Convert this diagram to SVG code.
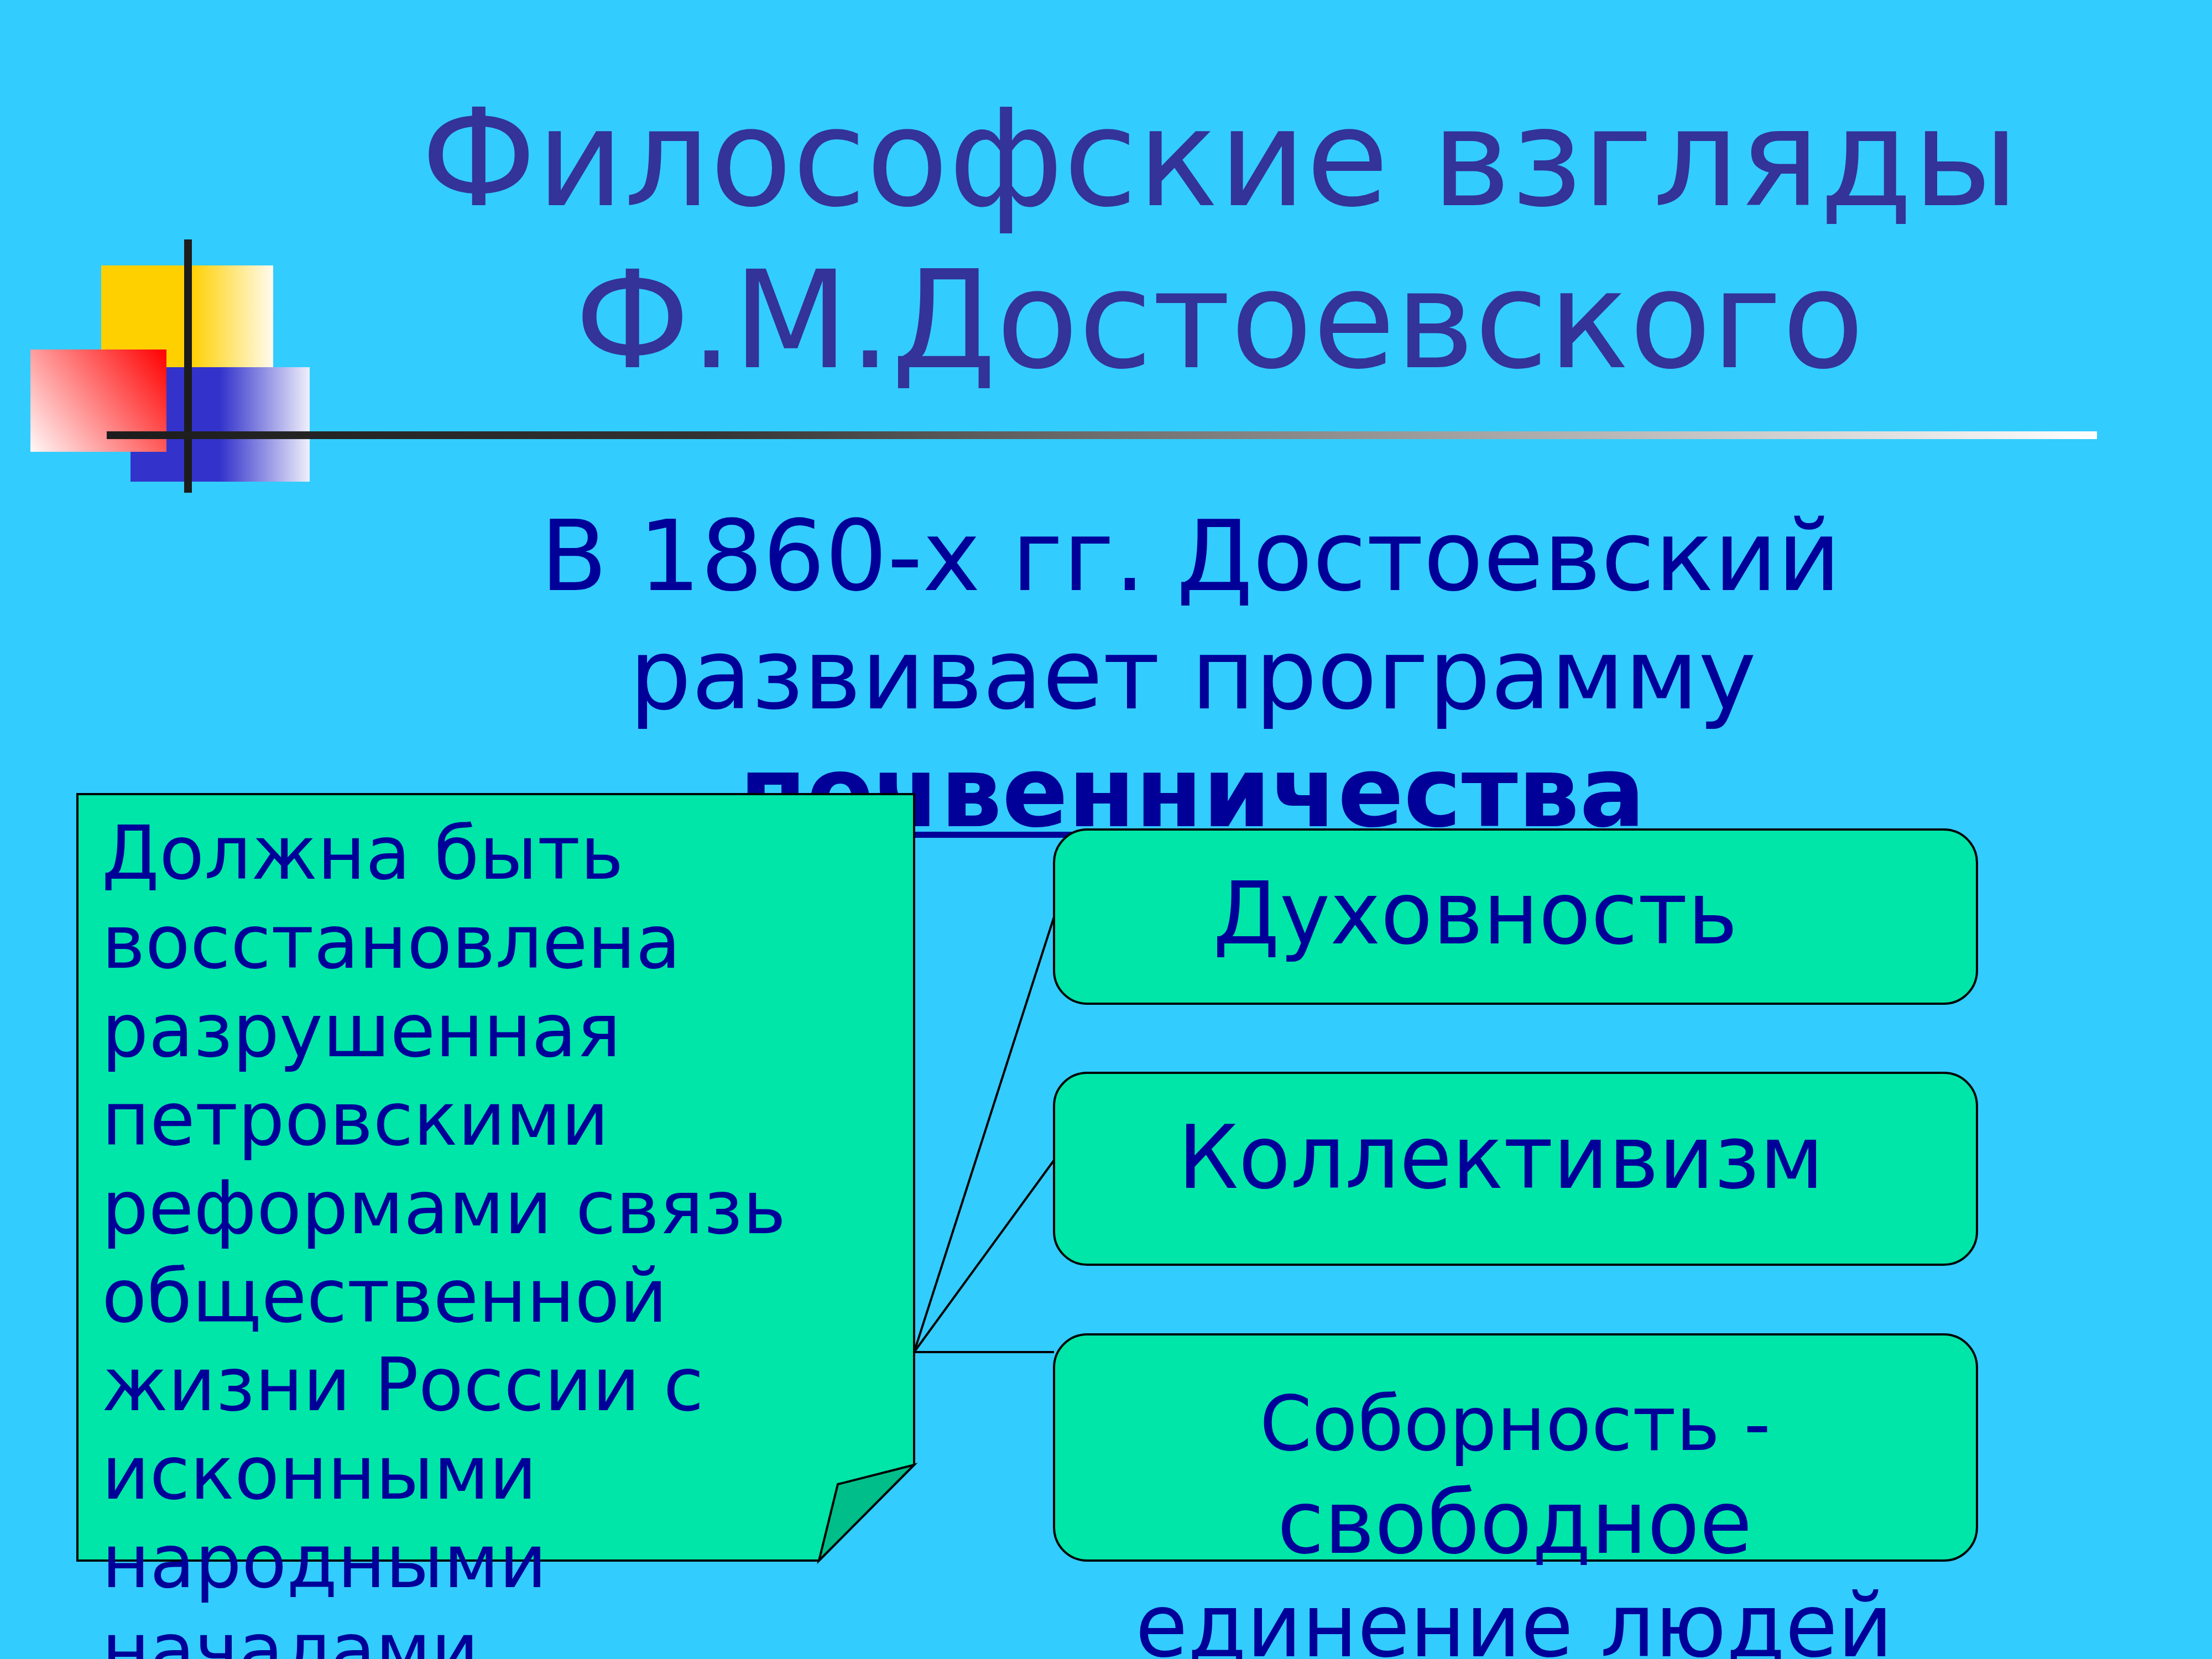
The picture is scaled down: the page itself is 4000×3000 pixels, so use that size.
<svg xmlns="http://www.w3.org/2000/svg" width="4000" height="3000" viewBox="0 0 4000 3000">
<defs>
<linearGradient id="gY" x1="183" y1="0" x2="494" y2="0" gradientUnits="userSpaceOnUse">
<stop offset="0" stop-color="#FFD000"/><stop offset="0.52" stop-color="#FFD000"/><stop offset="1" stop-color="#FFFBEE"/>
</linearGradient>
<linearGradient id="gB" x1="236" y1="0" x2="560" y2="0" gradientUnits="userSpaceOnUse">
<stop offset="0" stop-color="#3333CC"/><stop offset="0.5" stop-color="#3333CC"/><stop offset="1" stop-color="#EFEFFB"/>
</linearGradient>
<linearGradient id="gR" x1="55" y1="817" x2="301" y2="632" gradientUnits="userSpaceOnUse">
<stop offset="0" stop-color="#FFF8F8"/><stop offset="1" stop-color="#FF0000"/>
</linearGradient>
<linearGradient id="gL" x1="193" y1="0" x2="3792" y2="0" gradientUnits="userSpaceOnUse">
<stop offset="0" stop-color="#1C1C1C"/><stop offset="0.3" stop-color="#333333"/><stop offset="1" stop-color="#FFFFFF"/>
</linearGradient>
<style>
.t{font-family:"DejaVu Sans","Noto Sans",sans-serif;}
.title{fill:#333399;font-size:245px;text-anchor:middle;}
.sub{fill:#000099;font-size:177px;text-anchor:middle;}
.note{fill:#000099;font-size:133px;}
.lbl{fill:#000099;text-anchor:middle;}
.box{fill:#00E5A8;stroke:#000;stroke-width:4;}
.conn{stroke:#000;stroke-width:4;fill:none;}
</style>
</defs>
<rect x="0" y="0" width="4000" height="3000" fill="#33CCFF"/>
<g id="decor">
<rect x="183" y="480" width="311" height="185" fill="url(#gY)"/>
<rect x="236" y="664" width="324" height="207" fill="url(#gB)"/>
<rect x="55" y="632" width="246" height="185" fill="url(#gR)"/>
<rect x="333" y="433" width="14" height="458" fill="#1C1C1C"/>
<rect x="193" y="780" width="3599" height="14" fill="url(#gL)"/>
</g>
<g id="title" class="t">
<text class="title" x="2206" y="371" textLength="2890" lengthAdjust="spacingAndGlyphs">Философские взгляды</text>
<text class="title" x="2205" y="664" textLength="2332" lengthAdjust="spacingAndGlyphs">Ф.М.Достоевского</text>
</g>
<g id="subtitle" class="t">
<text class="sub" x="2153" y="1067" textLength="2352" lengthAdjust="spacingAndGlyphs">В 1860-х гг. Достоевский</text>
<text class="sub" x="2157" y="1281" textLength="2038" lengthAdjust="spacingAndGlyphs">развивает программу</text>
<text class="sub" x="2156" y="1494" font-weight="bold" textLength="1638" lengthAdjust="spacingAndGlyphs">почвенничества</text>
<rect x="1337" y="1504" width="1638" height="11" fill="#000099"/>
</g>
<g id="connectors">
<line class="conn" x1="1653" y1="2445" x2="1906" y2="1658"/>
<line class="conn" x1="1653" y1="2445" x2="1906" y2="2098"/>
<line class="conn" x1="1653" y1="2445" x2="1906" y2="2445"/>
</g>
<g id="note">
<path class="box" d="M140,1436 H1653 V2649 L1481,2822 H140 Z"/>
<path d="M1653,2649 L1515,2684 L1481,2822 Z" fill="#00BE8A" stroke="#000" stroke-width="4" stroke-linejoin="miter"/>
<g class="t note">
<text x="184" y="1589">Должна быть</text>
<text x="184" y="1750">восстановлена</text>
<text x="184" y="1910">разрушенная</text>
<text x="184" y="2070">петровскими</text>
<text x="184" y="2230">реформами связь</text>
<text x="184" y="2390">общественной</text>
<text x="184" y="2550">жизни России с</text>
<text x="184" y="2710">исконными</text>
<text x="184" y="2870">народными</text>
<text x="184" y="3030">началами</text>
</g>
</g>
<g id="box1">
<rect class="box" x="1906" y="1500" width="1669" height="315" rx="60" ry="60"/>
<text class="t lbl" x="2668" y="1706" font-size="156" textLength="949" lengthAdjust="spacingAndGlyphs">Духовность</text>
</g>
<g id="box2">
<rect class="box" x="1906" y="1940" width="1669" height="347" rx="60" ry="60"/>
<text class="t lbl" x="2714" y="2148" font-size="158" textLength="1168" lengthAdjust="spacingAndGlyphs">Коллективизм</text>
</g>
<g id="box3">
<rect class="box" x="1906" y="2413" width="1669" height="409" rx="60" ry="60"/>
<text class="t lbl" x="2740" y="2622" font-size="137" textLength="924" lengthAdjust="spacingAndGlyphs">Соборность -</text>
<text class="t lbl" x="2739" y="2808" font-size="158" textLength="859" lengthAdjust="spacingAndGlyphs">свободное</text>
<text class="t lbl" x="2738" y="2995" font-size="158" textLength="1370" lengthAdjust="spacingAndGlyphs">единение людей</text>
</g>
</svg>
